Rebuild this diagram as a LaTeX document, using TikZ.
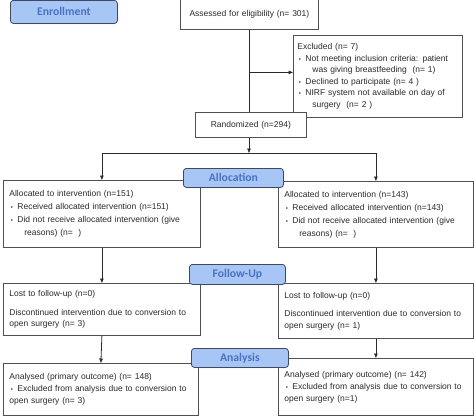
\documentclass[tikz,border=0pt]{standalone}
\usepackage{fontspec}
\setmainfont{Liberation Sans}
\newfontfamily\phasefont{Carlito}
\usepackage{tikz}
\usetikzlibrary{positioning,arrows.meta,shadows}
\definecolor{phasefill}{HTML}{A8C6F5}
\definecolor{phasetext}{HTML}{4A72C2}
\definecolor{phaseline}{HTML}{3E4A60}
\definecolor{boxline}{HTML}{505050}
\definecolor{darkgrey}{HTML}{2A2A2A}
\newcommand{\bul}{\hspace*{1.5pt}\makebox[6.5pt][l]{\fontsize{6}{5}\selectfont •}}

\begin{document}
\begin{tikzpicture}[
  x=1pt, y=-1pt,
  every node/.append style={font=\fontsize{8.5}{12}\selectfont, text=darkgrey},
  box/.style 2 args={draw=boxline, fill=white, line width=0.8pt, anchor=north west,
    inner xsep=6pt, inner ysep=2pt, align=left, text width=#1, minimum height=#2,
    drop shadow={shadow xshift=0.8pt, shadow yshift=-0.8pt, fill=black!35}},
  phase/.style={draw=phaseline, fill=phasefill, rounded corners=3pt, line width=0.8pt,
    anchor=north west, inner sep=0pt, text=phasetext,
    font=\phasefont\bfseries\fontsize{11.7}{13}\selectfont,
    drop shadow={shadow xshift=0.6pt, shadow yshift=-0.6pt, fill=black!30}},
  conn/.style={draw=darkgrey, line width=0.8pt},
  arr/.style={conn, -{Triangle[length=4.5pt,width=3.5pt]}}
]
\useasboundingbox (0,0) rectangle (474,416);

\node[box={126pt}{30pt}, align=center] (assessed) at (180,-1) {Assessed for eligibility (n= 301)};
\node[box={161pt}{82pt}, inner xsep=4pt, font=\fontsize{8.5}{11.5}\selectfont] (excl) at (293,35)
  {Excluded (n= 7)\\
   \bul Not meeting inclusion criteria: patient\\
   \hspace*{15pt}was giving breastfeeding\ \ (n= 1)\\
   \bul Declined to participate (n= 4 )\\
   \bul NIRF system not available on day of\\
   \hspace*{15pt}surgery\ \ (n= 2 )};
\node[box={99pt}{25pt}, align=center] (rand) at (195,112) {Randomized (n=294)};

\node[box={185pt}{67pt}, font=\fontsize{8.5}{13}\selectfont] (allocL) at (3,180)
  {Allocated to intervention (n=151)\\
   \bul Received allocated intervention (n=151)\\
   \bul Did not receive allocated intervention (give\\
   \hspace*{15pt}reasons) (n=\ \ )};
\node[box={183pt}{66pt}, font=\fontsize{8.5}{13}\selectfont] (allocR) at (278,181)
  {Allocated to intervention (n=143)\\
   \bul Received allocated intervention (n=143)\\
   \bul Did not receive allocated intervention (give\\
   \hspace*{15pt}reasons) (n=\ \ )};

\node[box={185pt}{52pt}, font=\fontsize{8.5}{11.5}\selectfont] (followL) at (3,283)
  {Lost to follow-up (n=0)\\[7pt]
   Discontinued intervention due to conversion to\\
   open surgery (n= 3)};
\node[box={183pt}{55pt}, font=\fontsize{8.5}{11.5}\selectfont] (followR) at (278,283)
  {Lost to follow-up (n=0)\\[7pt]
   Discontinued intervention due to conversion to\\
   open surgery (n= 1)};

\node[box={183pt}{52pt}] (anaL) at (3,363)
  {Analysed (primary outcome) (n= 148)\\
   \bul Excluded from analysis due to conversion to\\
   open surgery (n= 3)};
\node[box={183pt}{57pt}] (anaR) at (278,358)
  {Analysed (primary outcome) (n= 142)\\
   \bul Excluded from analysis due to conversion to\\
   open surgery (n=1)};

\foreach \nm/\lbl/\x/\y/\w/\h in {enrol/Enrollment/10/0/107/23, alloc/Allocation/183/168/100/19,
    follow/Follow-Up/189/264/96/20, anal/Analysis/191/348/97/19}
  \node[phase, minimum width=\w pt, minimum height=\h pt] (\nm) at (\x,\y) {\lbl};

\coordinate (exclin) at ([yshift=4pt]excl.west);
\coordinate (split) at (249,153);
\draw[conn] (assessed.south) -- (assessed.south |- rand.north);
\draw[arr] (assessed.south |- exclin) -- (exclin);
\draw[arr] (split |- rand.south) -- (split);
\draw[conn] (allocL.north |- split) -- (allocR.north |- split);
\draw[arr] (allocL.north |- split) -- (allocL.north);
\draw[arr] (allocR.north |- split) -- (allocR.north);
\draw[arr] (allocL.south) -- (followL.north);
\draw[arr] (allocR.south) -- (followR.north);
\draw[arr] (followL.south) -- (anaL.north);
\draw[arr] (followR.south) -- (anaR.north);
\end{tikzpicture}
\end{document}
